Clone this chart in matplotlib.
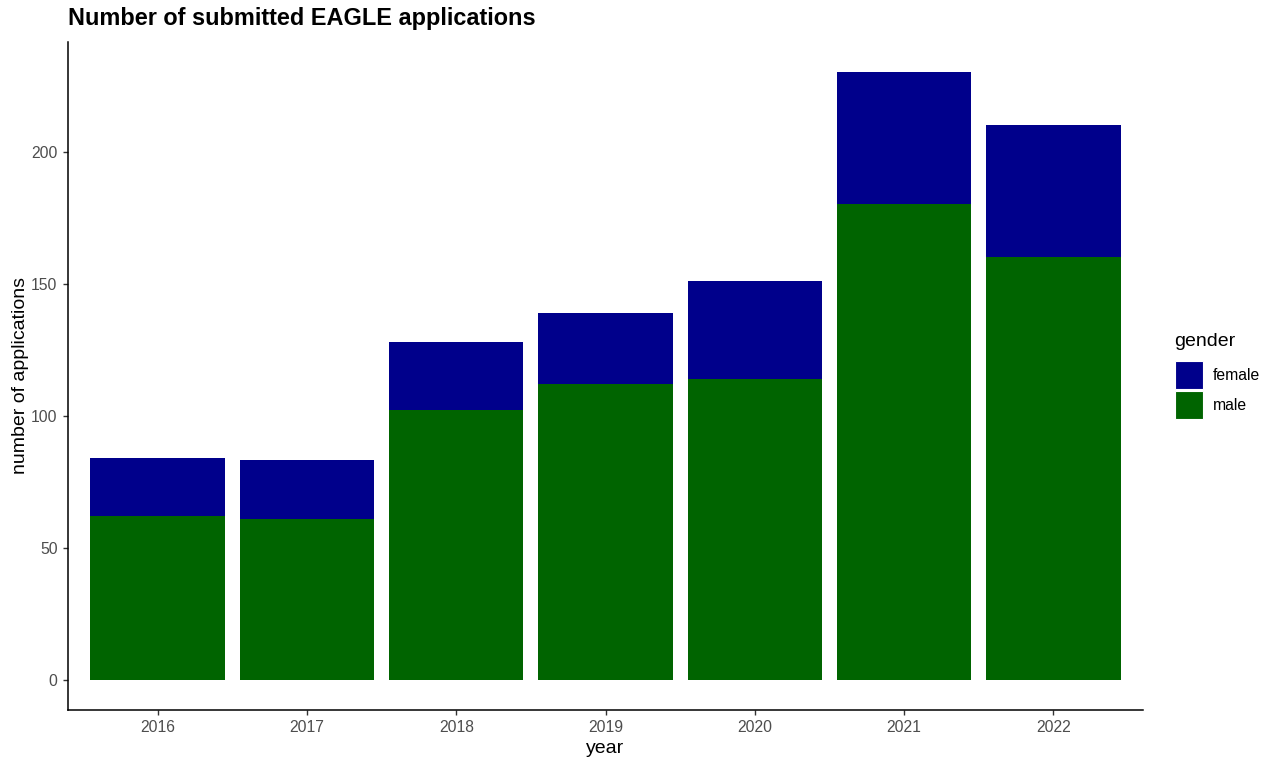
import matplotlib
matplotlib.use("Agg")
import matplotlib.pyplot as plt
from matplotlib.patches import Patch

plt.rcParams['font.family'] = ['Liberation Sans', 'DejaVu Sans']

years = ["2016", "2017", "2018", "2019", "2020", "2021", "2022"]
male = [62, 61, 102, 112, 114, 180, 160]
female = [22, 22, 26, 27, 37, 50, 50]

col_female = "#00008B"
col_male = "#006400"

fig = plt.figure(figsize=(12.8, 7.68), dpi=100)
ax = fig.add_axes([68/1280, 58/768, (1143-68)/1280, (710-42)/768])

x = list(range(1, len(years) + 1))
ax.bar(x, male, width=0.9, color=col_male, linewidth=0)
ax.bar(x, female, width=0.9, bottom=male, color=col_female, linewidth=0)

totals = [m + f for m, f in zip(male, female)]
ymax = max(totals)
ax.set_ylim(-0.05 * ymax, ymax * 1.05)
ax.set_xlim(0.4, len(years) + 0.6)
ax.set_xticks(x)
ax.set_xticklabels(years)
ax.set_yticks([0, 50, 100, 150, 200])

for s in ["top", "right"]:
    ax.spines[s].set_visible(False)
for s in ["left", "bottom"]:
    ax.spines[s].set_linewidth(1.1)
    ax.spines[s].set_color("black")
ax.tick_params(axis="both", labelcolor="#4D4D4D", labelsize=11.3, length=3.5,
               width=1.0, color="#333333", direction="out", pad=4)

ax.set_xlabel("year", fontsize=14, labelpad=3)
ax.set_ylabel("number of applications", fontsize=14, labelpad=1.5)

fig.text(68/1280, 1 - 19/768, "Number of submitted EAGLE applications",
         fontsize=16.9, fontweight="bold", va="center", ha="left")

fig.text(1174/1280, 1 - 342/768, "gender", fontsize=14, va="center", ha="left")

fs = 11.3
fs_px = fs * 100 / 72
hl = 28 / fs_px
hh = (28 / fs_px - 0.245) / 0.65
handles = [Patch(facecolor=col_female, edgecolor="white", linewidth=0.8, label="female"),
           Patch(facecolor=col_male, edgecolor="white", linewidth=0.8, label="male")]
leg = fig.legend(handles=handles, loc="upper left",
                 bbox_to_anchor=(1175/1280, 1 - 361/768), frameon=False,
                 fontsize=fs, handlelength=hl, handleheight=hh,
                 handletextpad=10 / fs_px, labelspacing=2 / fs_px,
                 borderaxespad=0, borderpad=0)

fig.savefig("out.png", dpi=100, facecolor="white")
